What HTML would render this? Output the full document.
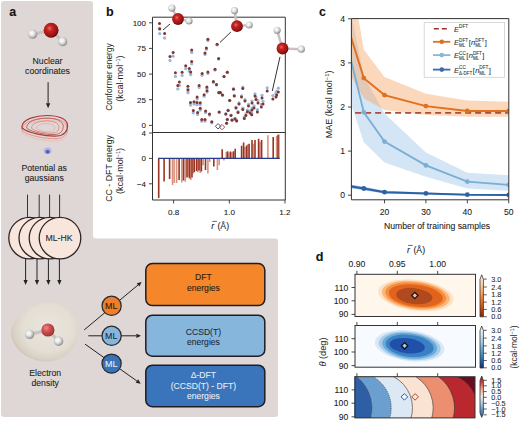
<!DOCTYPE html><html><head><meta charset="utf-8"><style>html,body{margin:0;padding:0;background:#fff;}svg{display:block;}</style></head><body>
<svg width="520" height="421" viewBox="0 0 520 421" font-family='"Liberation Sans", sans-serif'>
<defs>
<radialGradient id="gO" cx="0.4" cy="0.38" r="0.65"><stop offset="0" stop-color="#ee6a66"/><stop offset="0.3" stop-color="#c42420"/><stop offset="0.75" stop-color="#9a1414"/><stop offset="1" stop-color="#5e0a0a"/></radialGradient>
<radialGradient id="gO2" cx="0.38" cy="0.35" r="0.7"><stop offset="0" stop-color="#f08a8a"/><stop offset="0.4" stop-color="#d05050"/><stop offset="1" stop-color="#9a3030"/></radialGradient>
<radialGradient id="gH" cx="0.4" cy="0.38" r="0.7"><stop offset="0" stop-color="#ffffff"/><stop offset="0.4" stop-color="#e4e4e4"/><stop offset="1" stop-color="#7a7a7a"/></radialGradient>
<radialGradient id="gBlob" cx="0.55" cy="0.45" r="0.58"><stop offset="0" stop-color="#eae6de"/><stop offset="0.65" stop-color="#e4ded4"/><stop offset="0.9" stop-color="#d8d0c4"/><stop offset="1" stop-color="#c8bfb2"/></radialGradient>
<linearGradient id="cbO" x1="0" y1="1" x2="0" y2="0"><stop offset="0" stop-color="#7f2704"/><stop offset="0.2" stop-color="#c84a08"/><stop offset="0.4" stop-color="#f07a2a"/><stop offset="0.6" stop-color="#fdae6b"/><stop offset="0.8" stop-color="#fdd9b4"/><stop offset="1" stop-color="#fff5eb"/></linearGradient>
<linearGradient id="cbB" x1="0" y1="1" x2="0" y2="0"><stop offset="0" stop-color="#08306b"/><stop offset="0.2" stop-color="#2a6db0"/><stop offset="0.4" stop-color="#5aa0d0"/><stop offset="0.6" stop-color="#a6cde4"/><stop offset="0.8" stop-color="#d6e6f4"/><stop offset="1" stop-color="#f7fbff"/></linearGradient>
<linearGradient id="cbR" x1="0" y1="1" x2="0" y2="0"><stop offset="0" stop-color="#2a5a9e"/><stop offset="0.17" stop-color="#5a96c8"/><stop offset="0.33" stop-color="#a8cce4"/><stop offset="0.5" stop-color="#f6f0ec"/><stop offset="0.67" stop-color="#f4b09a"/><stop offset="0.83" stop-color="#d0504a"/><stop offset="1" stop-color="#780c1c"/></linearGradient>
<clipPath id="clipB"><rect x="152.5" y="17.2" width="132.8" height="182.8"/></clipPath>
<clipPath id="clipC"><rect x="351.4" y="18.6" width="157.4" height="181.2"/></clipPath>
<clipPath id="clipD1"><rect x="355" y="274.3" width="120.5" height="42.2"/></clipPath>
<clipPath id="clipD2"><rect x="355" y="325.5" width="120.5" height="41.7"/></clipPath>
<clipPath id="clipD3"><rect x="354.5" y="376.7" width="120.5" height="41.2"/></clipPath>
</defs>
<path d="M1,4 Q1,1 4,1 H90 Q93,1 93,4 V235.5 Q93,238.5 96,238.5 H275 Q278,238 278,241 V414 Q278,417 275,417 H4 Q1,417 1,414 Z" fill="#ded7d5"/>
<text x="9.3" y="15.8" font-size="12.4" text-anchor="start" fill="#111" font-weight="bold" font-style="normal" stroke="#111" stroke-width="0.08" >a</text>
<line x1="51.1" y1="30.2" x2="32.7" y2="34.2" stroke="#c9c2c0" stroke-width="3.22"/>
<line x1="51.1" y1="30.2" x2="62.7" y2="41.7" stroke="#c9c2c0" stroke-width="3.22"/>
<circle cx="32.7" cy="34.2" r="4.6" fill="url(#gH)"/>
<circle cx="51.1" cy="30.2" r="7.5" fill="url(#gO)"/>
<circle cx="62.7" cy="41.7" r="4.6" fill="url(#gH)"/>
<text x="47.5" y="63.5" font-size="8.7" text-anchor="middle" fill="#222" font-weight="normal" font-style="normal" stroke="#222" stroke-width="0.08" >Nuclear</text>
<text x="47.5" y="73.7" font-size="8.7" text-anchor="middle" fill="#222" font-weight="normal" font-style="normal" stroke="#222" stroke-width="0.08" >coordinates</text>
<line x1="48.1" y1="82.2" x2="48.10" y2="103.30" stroke="#222" stroke-width="1"/>
<polygon points="48.10,108.30 45.90,103.30 50.30,103.30" fill="#222"/>
<path d="M22,126 C23,119 36,115.5 47,115.5 C59,115.5 67,119 67.5,125 C68,131 64,135.5 57,136 C46,136.5 28,133 22,128 Z" transform="translate(0,5)" fill="none" stroke="#f0b8b0" stroke-width="0.8"/>
<path d="M22,126 C23,119 36,115.5 47,115.5 C59,115.5 67,119 67.5,125 C68,131 64,135.5 57,136 C46,136.5 28,133 22,128 Z" transform="translate(0,2.7)" fill="none" stroke="#e49088" stroke-width="0.9"/>
<path d="M22,126 C23,119 36,115.5 47,115.5 C59,115.5 67,119 67.5,125 C68,131 64,135.5 57,136 C46,136.5 28,133 22,128 Z" transform="translate(0.00,0.00) scale(1)" fill="none" stroke="#a83a38" stroke-width="1.20"/>
<path d="M22,126 C23,119 36,115.5 47,115.5 C59,115.5 67,119 67.5,125 C68,131 64,135.5 57,136 C46,136.5 28,133 22,128 Z" transform="translate(9.20,25.80) scale(0.8)" fill="none" stroke="#c25a52" stroke-width="1.12"/>
<path d="M22,126 C23,119 36,115.5 47,115.5 C59,115.5 67,119 67.5,125 C68,131 64,135.5 57,136 C46,136.5 28,133 22,128 Z" transform="translate(18.40,51.60) scale(0.6)" fill="none" stroke="#d88078" stroke-width="1.33"/>
<path d="M22,126 C23,119 36,115.5 47,115.5 C59,115.5 67,119 67.5,125 C68,131 64,135.5 57,136 C46,136.5 28,133 22,128 Z" transform="translate(27.60,77.40) scale(0.4)" fill="none" stroke="#e8a8a0" stroke-width="1.75"/>
<ellipse cx="47.6" cy="150.8" rx="4" ry="3.2" fill="#a8b0e8" fill-opacity="0.8"/><ellipse cx="47.6" cy="151.8" rx="2.2" ry="2" fill="#5a62b0"/>
<text x="44.2" y="170.6" font-size="8.7" text-anchor="middle" fill="#222" font-weight="normal" font-style="normal" stroke="#222" stroke-width="0.08" >Potential as</text>
<text x="44.2" y="180.6" font-size="8.7" text-anchor="middle" fill="#222" font-weight="normal" font-style="normal" stroke="#222" stroke-width="0.08" >gaussians</text>
<line x1="27.5" y1="194.6" x2="27.5" y2="222" stroke="#333" stroke-width="1"/>
<line x1="39.2" y1="194.6" x2="39.2" y2="222" stroke="#333" stroke-width="1"/>
<line x1="49.6" y1="194.6" x2="49.6" y2="222" stroke="#333" stroke-width="1"/>
<line x1="59.6" y1="194.6" x2="59.6" y2="222" stroke="#333" stroke-width="1"/>
<circle cx="29.6" cy="238.1" r="20.8" fill="#f8e6dc" stroke="#2e2626" stroke-width="1.3"/>
<circle cx="39.8" cy="238.1" r="20.8" fill="#f8e6dc" stroke="#2e2626" stroke-width="1.3"/>
<circle cx="50.0" cy="238.1" r="20.8" fill="#f8e6dc" stroke="#2e2626" stroke-width="1.3"/>
<circle cx="60.0" cy="238.1" r="20.8" fill="#f8e6dc" stroke="#2e2626" stroke-width="1.3"/>
<text x="59" y="241.3" font-size="8.7" text-anchor="middle" fill="#222" font-weight="normal" font-style="normal" stroke="#222" stroke-width="0.08" >ML-HK</text>
<line x1="25.6" y1="259" x2="25.60" y2="280.00" stroke="#222" stroke-width="1"/>
<polygon points="25.60,285.00 23.50,280.00 27.70,280.00" fill="#222"/>
<line x1="37.0" y1="259" x2="37.00" y2="280.00" stroke="#222" stroke-width="1"/>
<polygon points="37.00,285.00 34.90,280.00 39.10,280.00" fill="#222"/>
<line x1="48.4" y1="259" x2="48.40" y2="280.00" stroke="#222" stroke-width="1"/>
<polygon points="48.40,285.00 46.30,280.00 50.50,280.00" fill="#222"/>
<line x1="59.4" y1="259" x2="59.40" y2="280.00" stroke="#222" stroke-width="1"/>
<polygon points="59.40,285.00 57.30,280.00 61.50,280.00" fill="#222"/>
<path d="M11,331 C12,320 30,302 47,300.8 C63,300 77,312 78.2,330 C79,347 66,360 48,361.6 C29,362 11,349 11,331 Z" fill="url(#gBlob)"/>
<line x1="47.9" y1="330" x2="29.6" y2="334.4" stroke="#c9c2c0" stroke-width="3.29"/>
<line x1="47.9" y1="330" x2="58.6" y2="341.3" stroke="#c9c2c0" stroke-width="3.29"/>
<circle cx="29.6" cy="334.4" r="4.7" fill="url(#gH)"/>
<circle cx="47.9" cy="330" r="6.6" fill="url(#gO2)"/>
<circle cx="58.6" cy="341.3" r="4.7" fill="url(#gH)"/>
<text x="45.2" y="375.7" font-size="8.7" text-anchor="middle" fill="#222" font-weight="normal" font-style="normal" stroke="#222" stroke-width="0.08" >Electron</text>
<text x="45.2" y="385.5" font-size="8.7" text-anchor="middle" fill="#222" font-weight="normal" font-style="normal" stroke="#222" stroke-width="0.08" >density</text>
<line x1="84.2" y1="329.9" x2="138.07" y2="284.95" stroke="#222" stroke-width="1"/>
<polygon points="141.60,282.00 139.41,286.56 136.72,283.33" fill="#222"/>
<line x1="88.3" y1="335.8" x2="136.40" y2="335.80" stroke="#222" stroke-width="1"/>
<polygon points="141.00,335.80 136.40,337.90 136.40,333.70" fill="#222"/>
<line x1="85" y1="344.1" x2="136.95" y2="381.03" stroke="#222" stroke-width="1"/>
<polygon points="140.70,383.70 135.73,382.75 138.17,379.32" fill="#222"/>
<circle cx="111.6" cy="305.8" r="9.6" fill="#ef7d2a" stroke="#2a2a2a" stroke-width="1.25"/>
<text x="111.2" y="309.0" font-size="8.9" text-anchor="middle" fill="#2a1a10" font-weight="normal" font-style="normal" stroke="#2a1a10" stroke-width="0.08" >ML</text>
<circle cx="111.6" cy="335.8" r="9.6" fill="#86b6dc" stroke="#2a2a2a" stroke-width="1.25"/>
<text x="111.2" y="339.0" font-size="8.9" text-anchor="middle" fill="#1a2a3a" font-weight="normal" font-style="normal" stroke="#1a2a3a" stroke-width="0.08" >ML</text>
<circle cx="111.6" cy="363.6" r="9.6" fill="#3873ba" stroke="#2a2a2a" stroke-width="1.25"/>
<text x="111.2" y="366.8" font-size="8.9" text-anchor="middle" fill="#e8f0f8" font-weight="normal" font-style="normal" stroke="#e8f0f8" stroke-width="0.08" >ML</text>
<rect x="145.8" y="263.6" width="119" height="42.0" rx="6.5" ry="6.5" fill="#f5862a" stroke="#1e1e22" stroke-width="1.5"/>
<text x="203.4" y="280.4" font-size="8.6" text-anchor="middle" fill="#2a1a10" font-weight="normal" font-style="normal" stroke="#2a1a10" stroke-width="0.08" >DFT</text>
<text x="203.4" y="291.2" font-size="8.6" text-anchor="middle" fill="#2a1a10" font-weight="normal" font-style="normal" stroke="#2a1a10" stroke-width="0.08" >energies</text>
<rect x="145.8" y="315.2" width="119" height="41.0" rx="6.5" ry="6.5" fill="#86b6dc" stroke="#1e1e22" stroke-width="1.5"/>
<text x="203.4" y="334.6" font-size="8.6" text-anchor="middle" fill="#1a2a3a" font-weight="normal" font-style="normal" stroke="#1a2a3a" stroke-width="0.08" >CCSD(T)</text>
<text x="203.4" y="344.8" font-size="8.6" text-anchor="middle" fill="#1a2a3a" font-weight="normal" font-style="normal" stroke="#1a2a3a" stroke-width="0.08" >energies</text>
<rect x="145.8" y="365.2" width="119" height="41.5" rx="6.5" ry="6.5" fill="#3a74ba" stroke="#1e1e22" stroke-width="1.5"/>
<text x="203.4" y="377.9" font-size="8.6" text-anchor="middle" fill="#e6eef8" font-weight="normal" font-style="normal" stroke="#e6eef8" stroke-width="0.08" >Δ-DFT</text>
<text x="203.4" y="388.7" font-size="8.6" text-anchor="middle" fill="#e6eef8" font-weight="normal" font-style="normal" stroke="#e6eef8" stroke-width="0.08" >(CCSD(T) - DFT)</text>
<text x="203.4" y="398.6" font-size="8.6" text-anchor="middle" fill="#e6eef8" font-weight="normal" font-style="normal" stroke="#e6eef8" stroke-width="0.08" >energies</text>
<text x="106" y="15.6" font-size="12.6" text-anchor="start" fill="#111" font-weight="bold" font-style="normal" stroke="#111" stroke-width="0.08" >b</text>
<g clip-path="url(#clipB)">
<circle cx="159.7" cy="33.7" r="1.65" fill="#9cb8dc"/>
<circle cx="164.6" cy="38.0" r="1.65" fill="#9cb8dc"/>
<circle cx="173.1" cy="56.2" r="1.65" fill="#9cb8dc"/>
<circle cx="170" cy="60.4" r="1.65" fill="#9cb8dc"/>
<circle cx="191.7" cy="52.4" r="1.65" fill="#9cb8dc"/>
<circle cx="191.7" cy="63.8" r="1.65" fill="#9cb8dc"/>
<circle cx="185.7" cy="68.6" r="1.65" fill="#9cb8dc"/>
<circle cx="189.3" cy="71.2" r="1.65" fill="#9cb8dc"/>
<circle cx="190.7" cy="74.5" r="1.65" fill="#9cb8dc"/>
<circle cx="175.4" cy="76.4" r="1.65" fill="#9cb8dc"/>
<circle cx="182.1" cy="75.4" r="1.65" fill="#9cb8dc"/>
<circle cx="207.9" cy="40.6" r="1.65" fill="#9cb8dc"/>
<circle cx="206.4" cy="49.3" r="1.65" fill="#9cb8dc"/>
<circle cx="205" cy="54.4" r="1.65" fill="#9cb8dc"/>
<circle cx="217.1" cy="44.9" r="1.65" fill="#9cb8dc"/>
<circle cx="215" cy="70.0" r="1.65" fill="#9cb8dc"/>
<circle cx="207.9" cy="73.4" r="1.65" fill="#9cb8dc"/>
<circle cx="202.1" cy="75.3" r="1.65" fill="#9cb8dc"/>
<circle cx="218.6" cy="59.1" r="1.65" fill="#9cb8dc"/>
<circle cx="179.4" cy="85.3" r="1.65" fill="#9cb8dc"/>
<circle cx="177.8" cy="88.9" r="1.65" fill="#9cb8dc"/>
<circle cx="187.9" cy="88.9" r="1.65" fill="#9cb8dc"/>
<circle cx="188" cy="92.7" r="1.65" fill="#9cb8dc"/>
<circle cx="199.1" cy="87.4" r="1.65" fill="#9cb8dc"/>
<circle cx="206.9" cy="88.3" r="1.65" fill="#9cb8dc"/>
<circle cx="207" cy="92.1" r="1.65" fill="#9cb8dc"/>
<circle cx="213.4" cy="82.5" r="1.65" fill="#9cb8dc"/>
<circle cx="216.5" cy="85.1" r="1.65" fill="#9cb8dc"/>
<circle cx="218.8" cy="92.9" r="1.65" fill="#9cb8dc"/>
<circle cx="204.1" cy="96.2" r="1.65" fill="#9cb8dc"/>
<circle cx="197.1" cy="99.0" r="1.65" fill="#9cb8dc"/>
<circle cx="190.5" cy="105.0" r="1.65" fill="#9cb8dc"/>
<circle cx="194" cy="104.0" r="1.65" fill="#9cb8dc"/>
<circle cx="197" cy="104.5" r="1.65" fill="#9cb8dc"/>
<circle cx="200.2" cy="104.6" r="1.65" fill="#9cb8dc"/>
<circle cx="200.2" cy="110.1" r="1.65" fill="#9cb8dc"/>
<circle cx="193.3" cy="112.8" r="1.65" fill="#9cb8dc"/>
<circle cx="197.6" cy="114.5" r="1.65" fill="#9cb8dc"/>
<circle cx="205.6" cy="112.4" r="1.65" fill="#9cb8dc"/>
<circle cx="209.5" cy="115.1" r="1.65" fill="#9cb8dc"/>
<circle cx="219.2" cy="112.4" r="1.65" fill="#9cb8dc"/>
<circle cx="201.8" cy="121.2" r="1.65" fill="#9cb8dc"/>
<circle cx="205" cy="121.0" r="1.65" fill="#9cb8dc"/>
<circle cx="211.8" cy="122.8" r="1.65" fill="#9cb8dc"/>
<circle cx="227.3" cy="72.2" r="1.65" fill="#9cb8dc"/>
<circle cx="224" cy="76.6" r="1.65" fill="#9cb8dc"/>
<circle cx="233.5" cy="88.7" r="1.65" fill="#9cb8dc"/>
<circle cx="234.3" cy="95.4" r="1.65" fill="#9cb8dc"/>
<circle cx="229.7" cy="100.3" r="1.65" fill="#9cb8dc"/>
<circle cx="220.4" cy="92.8" r="1.65" fill="#9cb8dc"/>
<circle cx="222.5" cy="95.2" r="1.65" fill="#9cb8dc"/>
<circle cx="242.8" cy="87.2" r="1.65" fill="#9cb8dc"/>
<circle cx="241.5" cy="95.8" r="1.65" fill="#9cb8dc"/>
<circle cx="267.2" cy="88.0" r="1.65" fill="#9cb8dc"/>
<circle cx="255" cy="93.9" r="1.65" fill="#9cb8dc"/>
<circle cx="252" cy="101.1" r="1.65" fill="#9cb8dc"/>
<circle cx="258" cy="100.7" r="1.65" fill="#9cb8dc"/>
<circle cx="261.3" cy="104.4" r="1.65" fill="#9cb8dc"/>
<circle cx="257.4" cy="109.7" r="1.65" fill="#9cb8dc"/>
<circle cx="252" cy="108.1" r="1.65" fill="#9cb8dc"/>
<circle cx="242.8" cy="108.2" r="1.65" fill="#9cb8dc"/>
<circle cx="247.4" cy="110.1" r="1.65" fill="#9cb8dc"/>
<circle cx="245.9" cy="114.0" r="1.65" fill="#9cb8dc"/>
<circle cx="244.3" cy="117.2" r="1.65" fill="#9cb8dc"/>
<circle cx="251.7" cy="112.9" r="1.65" fill="#9cb8dc"/>
<circle cx="235" cy="118.3" r="1.65" fill="#9cb8dc"/>
<circle cx="232" cy="119.7" r="1.65" fill="#9cb8dc"/>
<circle cx="228.1" cy="110.2" r="1.65" fill="#9cb8dc"/>
<circle cx="225.8" cy="114.0" r="1.65" fill="#9cb8dc"/>
<circle cx="227.3" cy="119.3" r="1.65" fill="#9cb8dc"/>
<circle cx="226.6" cy="123.1" r="1.65" fill="#9cb8dc"/>
<circle cx="236.6" cy="120.2" r="1.65" fill="#9cb8dc"/>
<circle cx="272.9" cy="95.6" r="1.65" fill="#9cb8dc"/>
<circle cx="276.7" cy="91.3" r="1.65" fill="#9cb8dc"/>
<circle cx="278.3" cy="88.2" r="1.65" fill="#9cb8dc"/>
<circle cx="276" cy="93.4" r="1.65" fill="#9cb8dc"/>
<circle cx="159.5" cy="28.2" r="1.65" fill="#9cb8dc"/>
<circle cx="245" cy="99.6" r="1.65" fill="#9cb8dc"/>
<circle cx="248.5" cy="104.3" r="1.65" fill="#9cb8dc"/>
<circle cx="250" cy="111.2" r="1.65" fill="#9cb8dc"/>
<circle cx="254" cy="105.9" r="1.65" fill="#9cb8dc"/>
<circle cx="256" cy="97.3" r="1.65" fill="#9cb8dc"/>
<circle cx="262" cy="95.4" r="1.65" fill="#9cb8dc"/>
<circle cx="263" cy="101.3" r="1.65" fill="#9cb8dc"/>
<circle cx="239" cy="103.0" r="1.65" fill="#9cb8dc"/>
<circle cx="238" cy="111.6" r="1.65" fill="#9cb8dc"/>
<circle cx="231" cy="115.1" r="1.65" fill="#9cb8dc"/>
<circle cx="236" cy="107.2" r="1.65" fill="#9cb8dc"/>
<circle cx="159.7" cy="29" r="1.5" fill="#80362c"/>
<circle cx="164.6" cy="33.6" r="1.5" fill="#80362c"/>
<circle cx="173.1" cy="52.4" r="1.5" fill="#80362c"/>
<circle cx="170" cy="56.4" r="1.5" fill="#80362c"/>
<circle cx="191.7" cy="50" r="1.5" fill="#80362c"/>
<circle cx="191.7" cy="61.4" r="1.5" fill="#80362c"/>
<circle cx="185.7" cy="65.7" r="1.5" fill="#80362c"/>
<circle cx="189.3" cy="68.6" r="1.5" fill="#80362c"/>
<circle cx="190.7" cy="72" r="1.5" fill="#80362c"/>
<circle cx="175.4" cy="72.8" r="1.5" fill="#80362c"/>
<circle cx="182.1" cy="72.3" r="1.5" fill="#80362c"/>
<circle cx="207.9" cy="39.3" r="1.5" fill="#80362c"/>
<circle cx="206.4" cy="47.9" r="1.5" fill="#80362c"/>
<circle cx="205" cy="52.9" r="1.5" fill="#80362c"/>
<circle cx="217.1" cy="44.3" r="1.5" fill="#80362c"/>
<circle cx="215" cy="69.3" r="1.5" fill="#80362c"/>
<circle cx="207.9" cy="72.1" r="1.5" fill="#80362c"/>
<circle cx="202.1" cy="73.6" r="1.5" fill="#80362c"/>
<circle cx="218.6" cy="58.6" r="1.5" fill="#80362c"/>
<circle cx="179.4" cy="82" r="1.5" fill="#80362c"/>
<circle cx="177.8" cy="85.5" r="1.5" fill="#80362c"/>
<circle cx="187.9" cy="86.2" r="1.5" fill="#80362c"/>
<circle cx="188" cy="90" r="1.5" fill="#80362c"/>
<circle cx="199.1" cy="85.5" r="1.5" fill="#80362c"/>
<circle cx="206.9" cy="87" r="1.5" fill="#80362c"/>
<circle cx="207" cy="90.8" r="1.5" fill="#80362c"/>
<circle cx="213.4" cy="81.6" r="1.5" fill="#80362c"/>
<circle cx="216.5" cy="84.5" r="1.5" fill="#80362c"/>
<circle cx="218.8" cy="92.4" r="1.5" fill="#80362c"/>
<circle cx="204.1" cy="94.7" r="1.5" fill="#80362c"/>
<circle cx="197.1" cy="97" r="1.5" fill="#80362c"/>
<circle cx="190.5" cy="102.5" r="1.5" fill="#80362c"/>
<circle cx="194" cy="101.7" r="1.5" fill="#80362c"/>
<circle cx="197" cy="102.5" r="1.5" fill="#80362c"/>
<circle cx="200.2" cy="102.8" r="1.5" fill="#80362c"/>
<circle cx="200.2" cy="108.3" r="1.5" fill="#80362c"/>
<circle cx="193.3" cy="110.5" r="1.5" fill="#80362c"/>
<circle cx="197.6" cy="112.5" r="1.5" fill="#80362c"/>
<circle cx="205.6" cy="111" r="1.5" fill="#80362c"/>
<circle cx="209.5" cy="114" r="1.5" fill="#80362c"/>
<circle cx="219.2" cy="112" r="1.5" fill="#80362c"/>
<circle cx="201.8" cy="119.5" r="1.5" fill="#80362c"/>
<circle cx="205" cy="119.5" r="1.5" fill="#80362c"/>
<circle cx="211.8" cy="121.8" r="1.5" fill="#80362c"/>
<circle cx="227.3" cy="72.3" r="1.5" fill="#80362c"/>
<circle cx="224" cy="76.5" r="1.5" fill="#80362c"/>
<circle cx="233.5" cy="89.3" r="1.5" fill="#80362c"/>
<circle cx="234.3" cy="96" r="1.5" fill="#80362c"/>
<circle cx="229.7" cy="100.6" r="1.5" fill="#80362c"/>
<circle cx="220.4" cy="92.4" r="1.5" fill="#80362c"/>
<circle cx="222.5" cy="95" r="1.5" fill="#80362c"/>
<circle cx="242.8" cy="88.5" r="1.5" fill="#80362c"/>
<circle cx="241.5" cy="97" r="1.5" fill="#80362c"/>
<circle cx="267.2" cy="91" r="1.5" fill="#80362c"/>
<circle cx="255" cy="96" r="1.5" fill="#80362c"/>
<circle cx="252" cy="103" r="1.5" fill="#80362c"/>
<circle cx="258" cy="103" r="1.5" fill="#80362c"/>
<circle cx="261.3" cy="107" r="1.5" fill="#80362c"/>
<circle cx="257.4" cy="112" r="1.5" fill="#80362c"/>
<circle cx="252" cy="110" r="1.5" fill="#80362c"/>
<circle cx="242.8" cy="109.5" r="1.5" fill="#80362c"/>
<circle cx="247.4" cy="111.7" r="1.5" fill="#80362c"/>
<circle cx="245.9" cy="115.5" r="1.5" fill="#80362c"/>
<circle cx="244.3" cy="118.6" r="1.5" fill="#80362c"/>
<circle cx="251.7" cy="114.8" r="1.5" fill="#80362c"/>
<circle cx="235" cy="119" r="1.5" fill="#80362c"/>
<circle cx="232" cy="120.2" r="1.5" fill="#80362c"/>
<circle cx="228.1" cy="110.4" r="1.5" fill="#80362c"/>
<circle cx="225.8" cy="114" r="1.5" fill="#80362c"/>
<circle cx="227.3" cy="119.4" r="1.5" fill="#80362c"/>
<circle cx="226.6" cy="123.2" r="1.5" fill="#80362c"/>
<circle cx="236.6" cy="121" r="1.5" fill="#80362c"/>
<circle cx="272.9" cy="99" r="1.5" fill="#80362c"/>
<circle cx="276.7" cy="95" r="1.5" fill="#80362c"/>
<circle cx="278.3" cy="92" r="1.5" fill="#80362c"/>
<circle cx="276" cy="97" r="1.5" fill="#80362c"/>
<circle cx="159.5" cy="23.5" r="1.5" fill="#80362c"/>
<circle cx="245" cy="101" r="1.5" fill="#80362c"/>
<circle cx="248.5" cy="106" r="1.5" fill="#80362c"/>
<circle cx="250" cy="113" r="1.5" fill="#80362c"/>
<circle cx="254" cy="108" r="1.5" fill="#80362c"/>
<circle cx="256" cy="99.5" r="1.5" fill="#80362c"/>
<circle cx="262" cy="98" r="1.5" fill="#80362c"/>
<circle cx="263" cy="104" r="1.5" fill="#80362c"/>
<circle cx="239" cy="104" r="1.5" fill="#80362c"/>
<circle cx="238" cy="112.5" r="1.5" fill="#80362c"/>
<circle cx="231" cy="115.5" r="1.5" fill="#80362c"/>
<circle cx="236" cy="108" r="1.5" fill="#80362c"/>
<path d="M218.1,123.6 L220.8,126.3 L218.1,129 L215.4,126.3 Z" fill="none" stroke="#2a3a7a" stroke-width="0.9"/>
<path d="M222,124.4 L224.7,127.1 L222,129.8 L219.3,127.1 Z" fill="none" stroke="#a04a2a" stroke-width="0.9"/>
<line x1="172.5" y1="158.3" x2="172.5" y2="185.0" stroke="#d9937e" stroke-width="1.6"/>
<line x1="174.1" y1="158.3" x2="174.1" y2="183.1" stroke="#d9937e" stroke-width="1.6"/>
<line x1="176.6" y1="158.3" x2="176.6" y2="183.1" stroke="#d9937e" stroke-width="1.6"/>
<line x1="181.8" y1="158.3" x2="181.8" y2="182.4" stroke="#d9937e" stroke-width="1.6"/>
<line x1="185.3" y1="158.3" x2="185.3" y2="181.8" stroke="#d9937e" stroke-width="1.6"/>
<line x1="188.3" y1="158.3" x2="188.3" y2="176.7" stroke="#d9937e" stroke-width="1.6"/>
<line x1="190.8" y1="158.3" x2="190.8" y2="179.9" stroke="#d9937e" stroke-width="1.6"/>
<line x1="193.2" y1="158.3" x2="193.2" y2="173.5" stroke="#d9937e" stroke-width="1.6"/>
<line x1="197.8" y1="158.3" x2="197.8" y2="172.3" stroke="#d9937e" stroke-width="1.6"/>
<line x1="200.2" y1="158.3" x2="200.2" y2="172.9" stroke="#d9937e" stroke-width="1.6"/>
<line x1="203.2" y1="158.3" x2="203.2" y2="165.3" stroke="#d9937e" stroke-width="1.6"/>
<line x1="207.9" y1="158.3" x2="207.9" y2="173.5" stroke="#d9937e" stroke-width="1.6"/>
<line x1="209.7" y1="158.3" x2="209.7" y2="162.1" stroke="#d9937e" stroke-width="1.6"/>
<line x1="217.4" y1="158.3" x2="217.4" y2="170.0" stroke="#d9937e" stroke-width="1.6"/>
<line x1="219.2" y1="158.3" x2="219.2" y2="165.3" stroke="#d9937e" stroke-width="1.6"/>
<line x1="223.9" y1="158.3" x2="223.9" y2="160.5" stroke="#d9937e" stroke-width="1.6"/>
<line x1="226.3" y1="158.3" x2="226.3" y2="152.0" stroke="#d9937e" stroke-width="1.6"/>
<line x1="229" y1="158.3" x2="229" y2="152.6" stroke="#d9937e" stroke-width="1.6"/>
<line x1="232" y1="158.3" x2="232" y2="152.3" stroke="#d9937e" stroke-width="1.6"/>
<line x1="245" y1="158.3" x2="245" y2="146.9" stroke="#d9937e" stroke-width="1.6"/>
<line x1="247.8" y1="158.3" x2="247.8" y2="144.3" stroke="#d9937e" stroke-width="1.6"/>
<line x1="253.5" y1="158.3" x2="253.5" y2="143.7" stroke="#d9937e" stroke-width="1.6"/>
<line x1="260" y1="158.3" x2="260" y2="141.8" stroke="#d9937e" stroke-width="1.6"/>
<line x1="267.9" y1="158.3" x2="267.9" y2="135.3" stroke="#d9937e" stroke-width="1.6"/>
<line x1="276.6" y1="158.3" x2="276.6" y2="136.1" stroke="#d9937e" stroke-width="1.6"/>
<line x1="279" y1="158.3" x2="279" y2="134.6" stroke="#d9937e" stroke-width="1.6"/>
<line x1="158.7" y1="158.3" x2="158.7" y2="198.0" stroke="#9a3422" stroke-width="1.6"/>
<line x1="164.1" y1="158.3" x2="164.1" y2="181.6" stroke="#9a3422" stroke-width="1.6"/>
<line x1="169.6" y1="158.3" x2="169.6" y2="179.0" stroke="#9a3422" stroke-width="1.6"/>
<line x1="179.1" y1="158.3" x2="179.1" y2="179.9" stroke="#9a3422" stroke-width="1.6"/>
<line x1="183.5" y1="158.3" x2="183.5" y2="180.5" stroke="#9a3422" stroke-width="1.6"/>
<line x1="187" y1="158.3" x2="187" y2="177.4" stroke="#9a3422" stroke-width="1.6"/>
<line x1="189.5" y1="158.3" x2="189.5" y2="178.6" stroke="#9a3422" stroke-width="1.6"/>
<line x1="192" y1="158.3" x2="192" y2="177.4" stroke="#9a3422" stroke-width="1.6"/>
<line x1="194.3" y1="158.3" x2="194.3" y2="172.3" stroke="#9a3422" stroke-width="1.6"/>
<line x1="196.6" y1="158.3" x2="196.6" y2="171.0" stroke="#9a3422" stroke-width="1.6"/>
<line x1="199" y1="158.3" x2="199" y2="170.4" stroke="#9a3422" stroke-width="1.6"/>
<line x1="201.4" y1="158.3" x2="201.4" y2="171.6" stroke="#9a3422" stroke-width="1.6"/>
<line x1="205.5" y1="158.3" x2="205.5" y2="170.0" stroke="#9a3422" stroke-width="1.6"/>
<line x1="213.8" y1="158.3" x2="213.8" y2="166.6" stroke="#9a3422" stroke-width="1.6"/>
<line x1="222.2" y1="158.3" x2="222.2" y2="149.3" stroke="#9a3422" stroke-width="1.6"/>
<line x1="227.5" y1="158.3" x2="227.5" y2="151.3" stroke="#9a3422" stroke-width="1.6"/>
<line x1="230.5" y1="158.3" x2="230.5" y2="151.6" stroke="#9a3422" stroke-width="1.6"/>
<line x1="233.5" y1="158.3" x2="233.5" y2="151.3" stroke="#9a3422" stroke-width="1.6"/>
<line x1="235.2" y1="158.3" x2="235.2" y2="148.8" stroke="#9a3422" stroke-width="1.6"/>
<line x1="241.6" y1="158.3" x2="241.6" y2="145.8" stroke="#9a3422" stroke-width="1.6"/>
<line x1="243.6" y1="158.3" x2="243.6" y2="142.4" stroke="#9a3422" stroke-width="1.6"/>
<line x1="246.6" y1="158.3" x2="246.6" y2="145.6" stroke="#9a3422" stroke-width="1.6"/>
<line x1="249.1" y1="158.3" x2="249.1" y2="143.7" stroke="#9a3422" stroke-width="1.6"/>
<line x1="252" y1="158.3" x2="252" y2="140.1" stroke="#9a3422" stroke-width="1.6"/>
<line x1="255" y1="158.3" x2="255" y2="140.1" stroke="#9a3422" stroke-width="1.6"/>
<line x1="258.6" y1="158.3" x2="258.6" y2="138.8" stroke="#9a3422" stroke-width="1.6"/>
<line x1="261.6" y1="158.3" x2="261.6" y2="140.1" stroke="#9a3422" stroke-width="1.6"/>
<line x1="273.2" y1="158.3" x2="273.2" y2="137.0" stroke="#9a3422" stroke-width="1.6"/>
<line x1="278" y1="158.3" x2="278" y2="134.8" stroke="#9a3422" stroke-width="1.6"/>
<line x1="158.3" y1="158.3" x2="279.8" y2="158.3" stroke="#2a3a8a" stroke-width="1.2"/>
</g>
<path d="M152.5,17.2 H285.3 V200 H152.5 Z M152.5,132.5 H285.3" fill="none" stroke="#333" stroke-width="1"/>
<line x1="149" y1="22.8" x2="152.5" y2="22.8" stroke="#333" stroke-width="0.9"/>
<text x="146" y="25.6" font-size="8.0" text-anchor="end" fill="#222" font-weight="normal" font-style="normal" stroke="#222" stroke-width="0.08" >100</text>
<line x1="149" y1="48.4" x2="152.5" y2="48.4" stroke="#333" stroke-width="0.9"/>
<text x="146" y="51.199999999999996" font-size="8.0" text-anchor="end" fill="#222" font-weight="normal" font-style="normal" stroke="#222" stroke-width="0.08" >75</text>
<line x1="149" y1="74.1" x2="152.5" y2="74.1" stroke="#333" stroke-width="0.9"/>
<text x="146" y="76.89999999999999" font-size="8.0" text-anchor="end" fill="#222" font-weight="normal" font-style="normal" stroke="#222" stroke-width="0.08" >50</text>
<line x1="149" y1="99.7" x2="152.5" y2="99.7" stroke="#333" stroke-width="0.9"/>
<text x="146" y="102.5" font-size="8.0" text-anchor="end" fill="#222" font-weight="normal" font-style="normal" stroke="#222" stroke-width="0.08" >25</text>
<line x1="149" y1="125.4" x2="152.5" y2="125.4" stroke="#333" stroke-width="0.9"/>
<text x="146" y="128.20000000000002" font-size="8.0" text-anchor="end" fill="#222" font-weight="normal" font-style="normal" stroke="#222" stroke-width="0.08" >0</text>
<line x1="149" y1="133" x2="152.5" y2="133" stroke="#333" stroke-width="0.9"/>
<text x="146" y="135.8" font-size="8.0" text-anchor="end" fill="#222" font-weight="normal" font-style="normal" stroke="#222" stroke-width="0.08" >4</text>
<line x1="149" y1="158.4" x2="152.5" y2="158.4" stroke="#333" stroke-width="0.9"/>
<text x="146" y="161.20000000000002" font-size="8.0" text-anchor="end" fill="#222" font-weight="normal" font-style="normal" stroke="#222" stroke-width="0.08" >0</text>
<line x1="149" y1="183.8" x2="152.5" y2="183.8" stroke="#333" stroke-width="0.9"/>
<text x="146" y="186.60000000000002" font-size="8.0" text-anchor="end" fill="#222" font-weight="normal" font-style="normal" stroke="#222" stroke-width="0.08" >−4</text>
<line x1="173.6" y1="200" x2="173.6" y2="203.5" stroke="#333" stroke-width="0.9"/>
<text x="173.6" y="215.4" font-size="8.1" text-anchor="middle" fill="#222" font-weight="normal" font-style="normal" stroke="#222" stroke-width="0.08" >0.8</text>
<line x1="229.3" y1="200" x2="229.3" y2="203.5" stroke="#333" stroke-width="0.9"/>
<text x="229.3" y="215.4" font-size="8.1" text-anchor="middle" fill="#222" font-weight="normal" font-style="normal" stroke="#222" stroke-width="0.08" >1.0</text>
<line x1="285" y1="200" x2="285" y2="203.5" stroke="#333" stroke-width="0.9"/>
<text x="285" y="215.4" font-size="8.1" text-anchor="middle" fill="#222" font-weight="normal" font-style="normal" stroke="#222" stroke-width="0.08" >1.2</text>
<text x="211.3" y="229.3" font-size="8.8" text-anchor="start" fill="#222" font-weight="normal" font-style="normal" stroke="#222" stroke-width="0.08" ><tspan font-style="italic">r</tspan></text>
<line x1="212.4" y1="221.4" x2="216.9" y2="221.4" stroke="#222" stroke-width="0.7"/>
<text x="217.4" y="229.3" font-size="8.8" text-anchor="start" fill="#222" font-weight="normal" font-style="normal" stroke="#222" stroke-width="0.08" >(Å)</text>
<text transform="translate(112.2,77) rotate(-90)" font-size="8.4" text-anchor="middle" fill="#222">Conformer energy</text>
<text transform="translate(123,78.6) rotate(-90)" font-size="9.1" text-anchor="middle" fill="#222">(kcal·mol<tspan baseline-shift="super" font-size="5.5">−1</tspan>)</text>
<text transform="translate(112.2,168.4) rotate(-90)" font-size="8.8" text-anchor="middle" fill="#222">CC - DFT energy</text>
<text transform="translate(123,171) rotate(-90)" font-size="9.1" text-anchor="middle" fill="#222">(kcal·mol<tspan baseline-shift="super" font-size="5.5">−1</tspan>)</text>
<line x1="170" y1="24" x2="163" y2="30" stroke="#333" stroke-width="1"/>
<line x1="230.9" y1="32" x2="220" y2="42.4" stroke="#333" stroke-width="1"/>
<line x1="280" y1="56.8" x2="272.3" y2="91" stroke="#333" stroke-width="1"/>
<line x1="178" y1="19" x2="171.9" y2="8.1" stroke="#c9c2c0" stroke-width="2.52"/>
<line x1="178" y1="19" x2="189" y2="21" stroke="#c9c2c0" stroke-width="2.52"/>
<circle cx="171.9" cy="8.1" r="3.6" fill="url(#gH)"/>
<circle cx="178" cy="19" r="5.9" fill="url(#gO)"/>
<circle cx="189" cy="21" r="3.6" fill="url(#gH)"/>
<line x1="237" y1="26.2" x2="234.5" y2="10.6" stroke="#c9c2c0" stroke-width="2.52"/>
<line x1="237" y1="26.2" x2="249.2" y2="25" stroke="#c9c2c0" stroke-width="2.52"/>
<circle cx="234.5" cy="10.6" r="3.6" fill="url(#gH)"/>
<circle cx="237" cy="26.2" r="5.9" fill="url(#gO)"/>
<circle cx="249.2" cy="25" r="3.6" fill="url(#gH)"/>
<line x1="282.5" y1="48.5" x2="277.1" y2="30.3" stroke="#c9c2c0" stroke-width="2.52"/>
<line x1="282.5" y1="48.5" x2="301.3" y2="49.2" stroke="#c9c2c0" stroke-width="2.52"/>
<circle cx="277.1" cy="30.3" r="3.6" fill="url(#gH)"/>
<circle cx="282.5" cy="48.5" r="5.9" fill="url(#gO)"/>
<circle cx="301.3" cy="49.2" r="3.6" fill="url(#gH)"/>
<text x="319" y="16" font-size="12.4" text-anchor="start" fill="#111" font-weight="bold" font-style="normal" stroke="#111" stroke-width="0.08" >c</text>
<g clip-path="url(#clipC)">
<path d="M343.12,-25.30 L363.82,76.13 L384.52,113.61 L425.92,152.42 L467.32,172.71 L508.72,175.35 L508.72,190.79 L467.32,188.58 L425.92,176.68 L384.52,162.57 L363.82,142.28 L343.12,80.54 Z" fill="#98c0e6" fill-opacity="0.42"/>
<path d="M343.12,-69.40 L363.82,49.67 L384.52,77.01 L425.92,93.77 L467.32,100.38 L508.72,101.71 L508.72,116.70 L467.32,116.70 L425.92,114.94 L384.52,110.09 L363.82,98.18 L343.12,62.90 Z" fill="#f6a262" fill-opacity="0.43"/>
<path d="M343.12,183.29 L363.82,186.82 L384.52,190.79 L425.92,192.55 L467.32,193.88 L508.72,194.32 L508.72,195.20 L467.32,195.20 L425.92,194.32 L384.52,193.44 L363.82,190.35 L343.12,186.82 Z" fill="#4a82c4" fill-opacity="0.5"/>
<line x1="355.126" y1="112.95349999999999" x2="508.8" y2="112.95349999999999" stroke="#a8503a" stroke-width="1.7" stroke-dasharray="6,4"/>
<polyline points="343.12,11.74 363.82,78.11 384.52,95.09 425.92,106.12 467.32,110.97 508.72,110.97" fill="none" stroke="#e07020" stroke-width="1.9"/>
<polyline points="343.12,28.06 363.82,112.29 384.52,141.62 425.92,165.39 467.32,181.53 508.72,184.84" fill="none" stroke="#7aaed4" stroke-width="1.8"/>
<polyline points="343.12,185.06 363.82,188.50 384.52,192.20 425.92,193.44 467.32,194.67 508.72,194.98" fill="none" stroke="#2e62a6" stroke-width="2"/>
<circle cx="363.82" cy="78.11" r="2.4" fill="#e07020"/>
<circle cx="384.52" cy="95.09" r="2.4" fill="#e07020"/>
<circle cx="425.92" cy="106.12" r="2.4" fill="#e07020"/>
<circle cx="467.32" cy="110.97" r="2.4" fill="#e07020"/>
<circle cx="508.72" cy="110.97" r="2.4" fill="#e07020"/>
<circle cx="363.82" cy="112.29" r="2.4" fill="#7aaed4"/>
<circle cx="384.52" cy="141.62" r="2.4" fill="#7aaed4"/>
<circle cx="425.92" cy="165.39" r="2.4" fill="#7aaed4"/>
<circle cx="467.32" cy="181.53" r="2.4" fill="#7aaed4"/>
<circle cx="508.72" cy="184.84" r="2.4" fill="#7aaed4"/>
<circle cx="363.82" cy="188.50" r="2.4" fill="#2e62a6"/>
<circle cx="384.52" cy="192.20" r="2.4" fill="#2e62a6"/>
<circle cx="425.92" cy="193.44" r="2.4" fill="#2e62a6"/>
<circle cx="467.32" cy="194.67" r="2.4" fill="#2e62a6"/>
<circle cx="508.72" cy="194.98" r="2.4" fill="#2e62a6"/>
</g>
<path d="M351.4,18.6 H508.8 V199.8 H351.4 Z" fill="none" stroke="#333" stroke-width="1"/>
<line x1="347.9" y1="195.20" x2="351.4" y2="195.20" stroke="#333" stroke-width="0.9"/>
<text x="345" y="198.2" font-size="8.6" text-anchor="end" fill="#222" font-weight="normal" font-style="normal" stroke="#222" stroke-width="0.08" >0</text>
<line x1="347.9" y1="151.10" x2="351.4" y2="151.10" stroke="#333" stroke-width="0.9"/>
<text x="345" y="154.1" font-size="8.6" text-anchor="end" fill="#222" font-weight="normal" font-style="normal" stroke="#222" stroke-width="0.08" >1</text>
<line x1="347.9" y1="107.00" x2="351.4" y2="107.00" stroke="#333" stroke-width="0.9"/>
<text x="345" y="109.99999999999999" font-size="8.6" text-anchor="end" fill="#222" font-weight="normal" font-style="normal" stroke="#222" stroke-width="0.08" >2</text>
<line x1="347.9" y1="62.90" x2="351.4" y2="62.90" stroke="#333" stroke-width="0.9"/>
<text x="345" y="65.89999999999998" font-size="8.6" text-anchor="end" fill="#222" font-weight="normal" font-style="normal" stroke="#222" stroke-width="0.08" >3</text>
<line x1="347.9" y1="18.80" x2="351.4" y2="18.80" stroke="#333" stroke-width="0.9"/>
<text x="345" y="21.799999999999983" font-size="8.6" text-anchor="end" fill="#222" font-weight="normal" font-style="normal" stroke="#222" stroke-width="0.08" >4</text>
<line x1="384.52" y1="199.8" x2="384.52" y2="203.3" stroke="#333" stroke-width="0.9"/>
<text x="384.52" y="214.8" font-size="8.6" text-anchor="middle" fill="#222" font-weight="normal" font-style="normal" stroke="#222" stroke-width="0.08" >20</text>
<line x1="425.92" y1="199.8" x2="425.92" y2="203.3" stroke="#333" stroke-width="0.9"/>
<text x="425.92" y="214.8" font-size="8.6" text-anchor="middle" fill="#222" font-weight="normal" font-style="normal" stroke="#222" stroke-width="0.08" >30</text>
<line x1="467.32" y1="199.8" x2="467.32" y2="203.3" stroke="#333" stroke-width="0.9"/>
<text x="467.32" y="214.8" font-size="8.6" text-anchor="middle" fill="#222" font-weight="normal" font-style="normal" stroke="#222" stroke-width="0.08" >40</text>
<line x1="508.72" y1="199.8" x2="508.72" y2="203.3" stroke="#333" stroke-width="0.9"/>
<text x="508.72" y="214.8" font-size="8.6" text-anchor="middle" fill="#222" font-weight="normal" font-style="normal" stroke="#222" stroke-width="0.08" >50</text>
<text x="437" y="228.6" font-size="8.7" text-anchor="middle" fill="#222" font-weight="normal" font-style="normal" stroke="#222" stroke-width="0.08" >Number of training samples</text>
<text transform="translate(331.6,104.4) rotate(-90)" font-size="9" text-anchor="middle" fill="#222">MAE (kcal mol<tspan baseline-shift="super" font-size="5.8">−1</tspan>)</text>
<rect x="424.2" y="22.5" width="80.4" height="54.8" fill="#fff" fill-opacity="0.9" stroke="#d0d0d0" stroke-width="0.8"/>
<line x1="433.8" y1="28.7" x2="449.8" y2="28.7" stroke="#a02a2a" stroke-width="1.6" stroke-dasharray="5,3"/>
<text x="454.00" y="31.80" font-size="7.6" fill="#333" stroke="#333" stroke-width="0.08" font-style="italic">E</text>
<text x="459.07" y="28.40" font-size="4.7" fill="#333" stroke="#333" stroke-width="0.08">DFT</text>
<line x1="433" y1="41.8" x2="450.4" y2="41.8" stroke="#e07020" stroke-width="1.8"/><circle cx="441.8" cy="41.8" r="2.3" fill="#e07020"/>
<text x="454.00" y="45.00" font-size="7.6" fill="#333" stroke="#333" stroke-width="0.08" font-style="italic">E</text>
<text x="459.07" y="41.60" font-size="4.7" fill="#333" stroke="#333" stroke-width="0.08">DFT</text>
<text x="459.07" y="46.70" font-size="4.5" fill="#333" stroke="#333" stroke-width="0.08">ML</text>
<text x="468.71" y="45.00" font-size="7.6" fill="#333" stroke="#333" stroke-width="0.08">[</text>
<text x="471.02" y="45.00" font-size="7.6" fill="#333" stroke="#333" stroke-width="0.08" font-style="italic">n</text>
<text x="475.24" y="41.60" font-size="4.7" fill="#333" stroke="#333" stroke-width="0.08">DFT</text>
<text x="475.24" y="46.70" font-size="4.5" fill="#333" stroke="#333" stroke-width="0.08">ML</text>
<text x="484.68" y="45.00" font-size="7.6" fill="#333" stroke="#333" stroke-width="0.08">]</text>
<line x1="433" y1="55.1" x2="450.4" y2="55.1" stroke="#8ab8d8" stroke-width="1.8"/><circle cx="441.8" cy="55.1" r="2.3" fill="#8ab8d8"/>
<text x="454.00" y="58.30" font-size="7.6" fill="#333" stroke="#333" stroke-width="0.08" font-style="italic">E</text>
<text x="459.07" y="54.90" font-size="4.7" fill="#333" stroke="#333" stroke-width="0.08">CC</text>
<text x="459.07" y="60.00" font-size="4.5" fill="#333" stroke="#333" stroke-width="0.08">ML</text>
<text x="466.36" y="58.30" font-size="7.6" fill="#333" stroke="#333" stroke-width="0.08">[</text>
<text x="468.67" y="58.30" font-size="7.6" fill="#333" stroke="#333" stroke-width="0.08" font-style="italic">n</text>
<text x="472.89" y="54.90" font-size="4.7" fill="#333" stroke="#333" stroke-width="0.08">DFT</text>
<text x="472.89" y="60.00" font-size="4.5" fill="#333" stroke="#333" stroke-width="0.08">ML</text>
<text x="482.33" y="58.30" font-size="7.6" fill="#333" stroke="#333" stroke-width="0.08">]</text>
<line x1="433" y1="69.6" x2="450.4" y2="69.6" stroke="#3a6aaa" stroke-width="1.8"/><circle cx="441.8" cy="69.6" r="2.3" fill="#3a6aaa"/>
<text x="454.00" y="72.80" font-size="7.6" fill="#333" stroke="#333" stroke-width="0.08" font-style="italic">E</text>
<text x="459.07" y="69.40" font-size="4.7" fill="#333" stroke="#333" stroke-width="0.08">CC</text>
<text x="459.07" y="74.50" font-size="4.5" fill="#333" stroke="#333" stroke-width="0.08">Δ-DFT</text>
<text x="472.82" y="72.80" font-size="7.6" fill="#333" stroke="#333" stroke-width="0.08">[</text>
<text x="475.13" y="72.80" font-size="7.6" fill="#333" stroke="#333" stroke-width="0.08" font-style="italic">n</text>
<text x="479.36" y="69.40" font-size="4.7" fill="#333" stroke="#333" stroke-width="0.08">DFT</text>
<text x="479.36" y="74.50" font-size="4.5" fill="#333" stroke="#333" stroke-width="0.08">ML</text>
<text x="488.80" y="72.80" font-size="7.6" fill="#333" stroke="#333" stroke-width="0.08">]</text>
<text x="315.8" y="260.6" font-size="12.6" text-anchor="start" fill="#111" font-weight="bold" font-style="normal" stroke="#111" stroke-width="0.08" >d</text>
<text x="407" y="253.3" font-size="8.8" text-anchor="start" fill="#222" font-weight="normal" font-style="normal" stroke="#222" stroke-width="0.08" ><tspan font-style="italic">r</tspan></text>
<line x1="408.1" y1="245.4" x2="412.6" y2="245.4" stroke="#222" stroke-width="0.7"/>
<text x="413.4" y="253.3" font-size="8.8" text-anchor="start" fill="#222" font-weight="normal" font-style="normal" stroke="#222" stroke-width="0.08" >(Å)</text>
<text x="356.9" y="266.9" font-size="8.6" text-anchor="middle" fill="#222" font-weight="normal" font-style="normal" stroke="#222" stroke-width="0.08" >0.90</text>
<text x="397.3" y="266.9" font-size="8.6" text-anchor="middle" fill="#222" font-weight="normal" font-style="normal" stroke="#222" stroke-width="0.08" >0.95</text>
<text x="437.7" y="266.9" font-size="8.6" text-anchor="middle" fill="#222" font-weight="normal" font-style="normal" stroke="#222" stroke-width="0.08" >1.00</text>
<g clip-path="url(#clipD1)">
<rect x="355" y="274.3" width="120.5" height="42.19999999999999" fill="#fff6ec"/>
<ellipse cx="415.8" cy="295.3" rx="38" ry="15.4" fill="#fde2c6" transform="rotate(7 415.8 295.3)"/>
<ellipse cx="415.8" cy="295.3" rx="34.2" ry="14" fill="#fdb678" transform="rotate(7 415.8 295.3)"/>
<ellipse cx="415.8" cy="295.3" rx="30.7" ry="12.6" fill="#f78c3c" transform="rotate(7 415.8 295.3)"/>
<ellipse cx="415.8" cy="295.6" rx="27.2" ry="11" fill="#e0641e" transform="rotate(7 415.8 295.6)"/>
<ellipse cx="414.3" cy="296.1" rx="18.2" ry="8" fill="#b04a1e" transform="rotate(7 414.3 296.1)"/>
</g>
<g clip-path="url(#clipD2)">
<rect x="355" y="325.5" width="120.5" height="41.69999999999999" fill="#f7fbff"/>
<ellipse cx="409.7" cy="345.8" rx="35" ry="15.2" fill="#d8e8f6" transform="rotate(7 409.7 345.8)"/>
<ellipse cx="409.7" cy="345.8" rx="31.2" ry="14" fill="#a8cce8" transform="rotate(7 409.7 345.8)"/>
<ellipse cx="409.7" cy="345.8" rx="27.6" ry="12.7" fill="#6aaad8" transform="rotate(7 409.7 345.8)"/>
<ellipse cx="409.7" cy="345.8" rx="24.2" ry="11" fill="#3a80c4" transform="rotate(7 409.7 345.8)"/>
<ellipse cx="407.2" cy="345.8" rx="17.7" ry="7.5" fill="#2050a8" transform="rotate(7 407.2 345.8)"/>
</g>
<g clip-path="url(#clipD3)">
<rect x="354.5" y="376.7" width="121" height="41.2" fill="#6a0c20"/>
<path d="M350,374.7 L457.5,374.7 L457.5,376.7 A34.49,34.49 0 0,1 475.38,419.9 L350,419.9 Z" fill="#b8282e"/>
<path d="M350,374.7 L438.5,374.7 L438.5,376.7 A38.62,38.62 0 0,1 452.62,419.9 L350,419.9 Z" fill="#ec8e70"/>
<path d="M350,374.7 L415.8,374.7 L415.8,376.7 A36.85,36.85 0 0,1 431.23,419.9 L350,419.9 Z" fill="#fbe3d3"/>
<path d="M350,374.7 L393.6,374.7 L393.6,376.7 A35.37,35.37 0 0,1 410.44,419.9 L350,419.9 Z" fill="#dce8f4"/>
<path d="M350,374.7 L373.3,374.7 L373.3,376.7 A36.32,36.32 0 0,1 389.19,419.9 L350,419.9 Z" fill="#6a9fcf"/>
<path d="M350,374.7 L356.5,374.7 L356.5,376.7 A39.67,39.67 0 0,1 369.97,419.9 L350,419.9 Z" fill="#2e5fa5"/>
<path d="M356.5,376.7 A39.67,39.67 0 0,1 369.97,419.9" fill="none" stroke="#3a3030" stroke-width="0.6" stroke-dasharray="1.3,0.9"/>
<path d="M373.3,376.7 A36.32,36.32 0 0,1 389.19,419.9" fill="none" stroke="#3a3030" stroke-width="0.6" stroke-dasharray="1.3,0.9"/>
<path d="M393.6,376.7 A35.37,35.37 0 0,1 410.44,419.9" fill="none" stroke="#3a3030" stroke-width="0.6" />
<path d="M415.8,376.7 A36.85,36.85 0 0,1 431.23,419.9" fill="none" stroke="#3a3030" stroke-width="0.6" />
<path d="M438.5,376.7 A38.62,38.62 0 0,1 452.62,419.9" fill="none" stroke="#3a3030" stroke-width="0.6" />
<path d="M457.5,376.7 A34.49,34.49 0 0,1 475.38,419.9" fill="none" stroke="#3a3030" stroke-width="0.6" />
</g>
<path d="M414.8,292.3 L418,295.5 L414.8,298.7 L411.6,295.5 Z" fill="#e8c0a0" stroke="#1e1410" stroke-width="1.3"/>
<path d="M404.6,342.6 L407.8,345.8 L404.6,349 L401.4,345.8 Z" fill="#b0c8e8" stroke="#0a1020" stroke-width="1.3"/>
<path d="M404.4,393.6 L407.7,396.9 L404.4,400.2 L401.1,396.9 Z" fill="#f0f4fa" stroke="#3a5aa8" stroke-width="1"/>
<path d="M415.1,393.6 L418.4,396.9 L415.1,400.2 L411.8,396.9 Z" fill="#fbe4d6" stroke="#a0502a" stroke-width="1"/>
<rect x="355" y="274.3" width="120.5" height="42.2" fill="none" stroke="#333" stroke-width="1"/>
<line x1="356.9" y1="270.8" x2="356.9" y2="274.3" stroke="#333" stroke-width="0.9"/>
<line x1="397.3" y1="270.8" x2="397.3" y2="274.3" stroke="#333" stroke-width="0.9"/>
<line x1="437.7" y1="270.8" x2="437.7" y2="274.3" stroke="#333" stroke-width="0.9"/>
<line x1="351.5" y1="287.5" x2="355" y2="287.5" stroke="#333" stroke-width="0.9"/>
<text x="348.2" y="290.5" font-size="8.6" text-anchor="end" fill="#222" font-weight="normal" font-style="normal" stroke="#222" stroke-width="0.08" >110</text>
<line x1="351.5" y1="300.8" x2="355" y2="300.8" stroke="#333" stroke-width="0.9"/>
<text x="348.2" y="303.8" font-size="8.6" text-anchor="end" fill="#222" font-weight="normal" font-style="normal" stroke="#222" stroke-width="0.08" >100</text>
<line x1="351.5" y1="314.4" x2="355" y2="314.4" stroke="#333" stroke-width="0.9"/>
<text x="348.2" y="317.4" font-size="8.6" text-anchor="end" fill="#222" font-weight="normal" font-style="normal" stroke="#222" stroke-width="0.08" >90</text>
<rect x="355" y="325.5" width="120.5" height="41.7" fill="none" stroke="#333" stroke-width="1"/>
<line x1="356.9" y1="322.0" x2="356.9" y2="325.5" stroke="#333" stroke-width="0.9"/>
<line x1="397.3" y1="322.0" x2="397.3" y2="325.5" stroke="#333" stroke-width="0.9"/>
<line x1="437.7" y1="322.0" x2="437.7" y2="325.5" stroke="#333" stroke-width="0.9"/>
<line x1="351.5" y1="338.7" x2="355" y2="338.7" stroke="#333" stroke-width="0.9"/>
<text x="348.2" y="341.7" font-size="8.6" text-anchor="end" fill="#222" font-weight="normal" font-style="normal" stroke="#222" stroke-width="0.08" >110</text>
<line x1="351.5" y1="352.0" x2="355" y2="352.0" stroke="#333" stroke-width="0.9"/>
<text x="348.2" y="355.0" font-size="8.6" text-anchor="end" fill="#222" font-weight="normal" font-style="normal" stroke="#222" stroke-width="0.08" >100</text>
<line x1="351.5" y1="365.6" x2="355" y2="365.6" stroke="#333" stroke-width="0.9"/>
<text x="348.2" y="368.6" font-size="8.6" text-anchor="end" fill="#222" font-weight="normal" font-style="normal" stroke="#222" stroke-width="0.08" >90</text>
<rect x="355" y="376.7" width="120" height="41.2" fill="none" stroke="#333" stroke-width="1"/>
<line x1="356.9" y1="373.2" x2="356.9" y2="376.7" stroke="#333" stroke-width="0.9"/>
<line x1="397.3" y1="373.2" x2="397.3" y2="376.7" stroke="#333" stroke-width="0.9"/>
<line x1="437.7" y1="373.2" x2="437.7" y2="376.7" stroke="#333" stroke-width="0.9"/>
<line x1="351.5" y1="389.9" x2="355" y2="389.9" stroke="#333" stroke-width="0.9"/>
<text x="348.2" y="392.9" font-size="8.6" text-anchor="end" fill="#222" font-weight="normal" font-style="normal" stroke="#222" stroke-width="0.08" >110</text>
<line x1="351.5" y1="403.2" x2="355" y2="403.2" stroke="#333" stroke-width="0.9"/>
<text x="348.2" y="406.2" font-size="8.6" text-anchor="end" fill="#222" font-weight="normal" font-style="normal" stroke="#222" stroke-width="0.08" >100</text>
<line x1="351.5" y1="416.8" x2="355" y2="416.8" stroke="#333" stroke-width="0.9"/>
<text x="348.2" y="419.8" font-size="8.6" text-anchor="end" fill="#222" font-weight="normal" font-style="normal" stroke="#222" stroke-width="0.08" >90</text>
<text transform="translate(325.6,352) rotate(-90)" font-size="9.2" text-anchor="middle" fill="#222"><tspan font-style="italic">θ</tspan> (deg)</text>
<path d="M480.0,279.3 L481.7,274.8 L483.4,279.3 L483.4,316.8 L480.0,316.8 Z" fill="url(#cbO)" stroke="#333" stroke-width="0.8"/>
<line x1="483.4" y1="279.1" x2="486.79999999999995" y2="279.1" stroke="#333" stroke-width="0.8"/>
<text x="491.2" y="281.70000000000005" font-size="7.3" text-anchor="start" fill="#2a2a2a" font-weight="normal" font-style="normal" stroke="#2a2a2a" stroke-width="0.08" >3.0</text>
<line x1="483.4" y1="287" x2="486.79999999999995" y2="287" stroke="#333" stroke-width="0.8"/>
<text x="491.2" y="289.6" font-size="7.3" text-anchor="start" fill="#2a2a2a" font-weight="normal" font-style="normal" stroke="#2a2a2a" stroke-width="0.08" >2.4</text>
<line x1="483.4" y1="294.8" x2="486.79999999999995" y2="294.8" stroke="#333" stroke-width="0.8"/>
<text x="491.2" y="297.40000000000003" font-size="7.3" text-anchor="start" fill="#2a2a2a" font-weight="normal" font-style="normal" stroke="#2a2a2a" stroke-width="0.08" >1.8</text>
<line x1="483.4" y1="302.1" x2="486.79999999999995" y2="302.1" stroke="#333" stroke-width="0.8"/>
<text x="491.2" y="304.70000000000005" font-size="7.3" text-anchor="start" fill="#2a2a2a" font-weight="normal" font-style="normal" stroke="#2a2a2a" stroke-width="0.08" >1.2</text>
<line x1="483.4" y1="309.4" x2="486.79999999999995" y2="309.4" stroke="#333" stroke-width="0.8"/>
<text x="491.2" y="312.0" font-size="7.3" text-anchor="start" fill="#2a2a2a" font-weight="normal" font-style="normal" stroke="#2a2a2a" stroke-width="0.08" >0.6</text>
<line x1="483.4" y1="316.7" x2="486.79999999999995" y2="316.7" stroke="#333" stroke-width="0.8"/>
<text x="491.2" y="319.3" font-size="7.3" text-anchor="start" fill="#2a2a2a" font-weight="normal" font-style="normal" stroke="#2a2a2a" stroke-width="0.08" >0.0</text>
<path d="M480.0,330.5 L481.7,326 L483.4,330.5 L483.4,368 L480.0,368 Z" fill="url(#cbB)" stroke="#333" stroke-width="0.8"/>
<line x1="483.4" y1="330.3" x2="486.79999999999995" y2="330.3" stroke="#333" stroke-width="0.8"/>
<text x="491.2" y="332.90000000000003" font-size="7.3" text-anchor="start" fill="#2a2a2a" font-weight="normal" font-style="normal" stroke="#2a2a2a" stroke-width="0.08" >3.0</text>
<line x1="483.4" y1="338.1" x2="486.79999999999995" y2="338.1" stroke="#333" stroke-width="0.8"/>
<text x="491.2" y="340.70000000000005" font-size="7.3" text-anchor="start" fill="#2a2a2a" font-weight="normal" font-style="normal" stroke="#2a2a2a" stroke-width="0.08" >2.4</text>
<line x1="483.4" y1="345.9" x2="486.79999999999995" y2="345.9" stroke="#333" stroke-width="0.8"/>
<text x="491.2" y="348.5" font-size="7.3" text-anchor="start" fill="#2a2a2a" font-weight="normal" font-style="normal" stroke="#2a2a2a" stroke-width="0.08" >1.8</text>
<line x1="483.4" y1="353.2" x2="486.79999999999995" y2="353.2" stroke="#333" stroke-width="0.8"/>
<text x="491.2" y="355.8" font-size="7.3" text-anchor="start" fill="#2a2a2a" font-weight="normal" font-style="normal" stroke="#2a2a2a" stroke-width="0.08" >1.2</text>
<line x1="483.4" y1="360.5" x2="486.79999999999995" y2="360.5" stroke="#333" stroke-width="0.8"/>
<text x="491.2" y="363.1" font-size="7.3" text-anchor="start" fill="#2a2a2a" font-weight="normal" font-style="normal" stroke="#2a2a2a" stroke-width="0.08" >0.6</text>
<line x1="483.4" y1="367.8" x2="486.79999999999995" y2="367.8" stroke="#333" stroke-width="0.8"/>
<text x="491.2" y="370.40000000000003" font-size="7.3" text-anchor="start" fill="#2a2a2a" font-weight="normal" font-style="normal" stroke="#2a2a2a" stroke-width="0.08" >0.0</text>
<path d="M480.0,380.5 L481.7,376 L483.4,380.5 L483.4,412.9 L481.7,417.4 L480.0,412.9 Z" fill="url(#cbR)" stroke="#333" stroke-width="0.8"/>
<line x1="483.4" y1="380.3" x2="486.79999999999995" y2="380.3" stroke="#333" stroke-width="0.8"/>
<text x="491.2" y="382.90000000000003" font-size="7.3" text-anchor="start" fill="#2a2a2a" font-weight="normal" font-style="normal" stroke="#2a2a2a" stroke-width="0.08" >1.5</text>
<line x1="483.4" y1="385.8" x2="486.79999999999995" y2="385.8" stroke="#333" stroke-width="0.8"/>
<text x="491.2" y="388.40000000000003" font-size="7.3" text-anchor="start" fill="#2a2a2a" font-weight="normal" font-style="normal" stroke="#2a2a2a" stroke-width="0.08" >1.0</text>
<line x1="483.4" y1="391.6" x2="486.79999999999995" y2="391.6" stroke="#333" stroke-width="0.8"/>
<text x="491.2" y="394.20000000000005" font-size="7.3" text-anchor="start" fill="#2a2a2a" font-weight="normal" font-style="normal" stroke="#2a2a2a" stroke-width="0.08" >0.5</text>
<line x1="483.4" y1="397.3" x2="486.79999999999995" y2="397.3" stroke="#333" stroke-width="0.8"/>
<text x="491.2" y="399.90000000000003" font-size="7.3" text-anchor="start" fill="#2a2a2a" font-weight="normal" font-style="normal" stroke="#2a2a2a" stroke-width="0.08" >0.0</text>
<line x1="483.4" y1="403.3" x2="486.79999999999995" y2="403.3" stroke="#333" stroke-width="0.8"/>
<text x="491.2" y="405.90000000000003" font-size="7.3" text-anchor="start" fill="#2a2a2a" font-weight="normal" font-style="normal" stroke="#2a2a2a" stroke-width="0.08" >−0.5</text>
<line x1="483.4" y1="409" x2="486.79999999999995" y2="409" stroke="#333" stroke-width="0.8"/>
<text x="491.2" y="411.6" font-size="7.3" text-anchor="start" fill="#2a2a2a" font-weight="normal" font-style="normal" stroke="#2a2a2a" stroke-width="0.08" >−1.0</text>
<line x1="483.4" y1="414.8" x2="486.79999999999995" y2="414.8" stroke="#333" stroke-width="0.8"/>
<text x="491.2" y="417.40000000000003" font-size="7.3" text-anchor="start" fill="#2a2a2a" font-weight="normal" font-style="normal" stroke="#2a2a2a" stroke-width="0.08" >−1.5</text>
<text transform="translate(517.3,347) rotate(-90)" font-size="8.4" text-anchor="middle" fill="#222">(kcal·mol<tspan baseline-shift="super" font-size="5.5">−1</tspan>)</text>
</svg></body></html>
